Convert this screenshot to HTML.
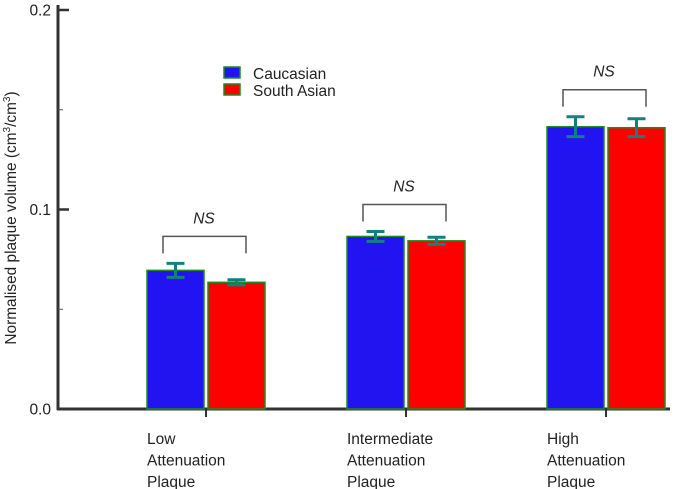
<!DOCTYPE html>
<html><head><meta charset="utf-8"><style>
body{margin:0;background:#fff}
svg{display:block;font-family:"Liberation Sans",Arial,sans-serif}
</style></head><body>
<svg id="c" width="685" height="489" viewBox="0 0 685 489">
<g id="axes"></g><g id="marks"></g>
</svg>
<script>
const categories=[["Low","Attenuation","Plaque"],["Intermediate","Attenuation","Plaque"],["High","Attenuation","Plaque"]];
const seriesNames=["Caucasian","South Asian"];
const caucasian=[0.0695,0.0865,0.1415];
const southAsian=[0.0635,0.0843,0.141];
const caucasianErr=[0.0035,0.0025,0.005];
const southAsianErr=[0.0013,0.0018,0.0045];
const sigLabels=["NS","NS","NS"];
const yTicks=[0,0.1,0.2];
const yTickLabels=["0.0","0.1","0.2"];
const yMinor=[0.05,0.15];

const NS="http://www.w3.org/2000/svg";
const y=v=>409-v*1995;
const cx=i=>206+i*200;
const colors=["#2114f0","#ff0000"];
function mk(tag,attrs,parent,text){const e=document.createElementNS(NS,tag);for(const k in attrs)e.setAttribute(k,attrs[k]);if(text!=null)e.textContent=text;parent.appendChild(e);return e;}
const A=document.getElementById('axes'),M=document.getElementById('marks');
let e;
e=mk('line',{x1:58,y1:5,x2:58,y2:410,stroke:'#333','stroke-width':3},A);


e=mk('line',{x1:57,y1:409,x2:670,y2:409,stroke:'#333','stroke-width':3},A);


yTicks.forEach((t,i)=>{
 e=mk('line',{x1:58,y1:y(t),x2:69,y2:y(t),stroke:'#333','stroke-width':2.5},A);
 
 
 e=mk('text',{x:51,y:y(t)+5.5,'text-anchor':'end','font-size':15.5,fill:'#222'},A,yTickLabels[i]);
 
 
});
yMinor.forEach(t=>{
 e=mk('line',{x1:58,y1:y(t),x2:63,y2:y(t),stroke:'#555','stroke-width':1},A);
 
 
});
e=mk('text',{x:0,y:0,transform:'translate(16,218) rotate(-90)','text-anchor':'middle','font-size':15.4,fill:'#222'},A);


e.innerHTML='Normalised plaque volume (cm<tspan font-size="10" dy="-6">3</tspan><tspan dy="6">/cm</tspan><tspan font-size="10" dy="-6">3</tspan><tspan dy="6">)</tspan>';
categories.forEach((lines,i)=>{
 e=mk('line',{x1:cx(i),y1:409,x2:cx(i),y2:417,stroke:'#333','stroke-width':2},A);
 
 
 const t=mk('text',{x:cx(i)-59,y:444,'font-size':15.5,fill:'#222'},A);
 
 
 lines.forEach((l,j)=>mk('tspan',{x:cx(i)-59,dy:j?21.5:0},t,l));
 const vals=[caucasian[i],southAsian[i]],errs=[caucasianErr[i],southAsianErr[i]];
 vals.forEach((v,s)=>{
  const x0=s?cx(i)+2:cx(i)-59;
  e=mk('rect',{x:x0,y:y(v),width:57,height:409-y(v),fill:colors[s],stroke:'#1f8a1f','stroke-width':1.5},M);
  
  
  const mx=x0+28.5,hi=y(v+errs[s]),lo=y(v-errs[s]);
  const g=mk('g',{stroke:'#138080','stroke-width':3},M);
  
  
  mk('line',{x1:mx,y1:hi,x2:mx,y2:lo},g);
  mk('line',{x1:mx-9,y1:hi,x2:mx+9,y2:hi},g);
  mk('line',{x1:mx-9,y1:lo,x2:mx+9,y2:lo},g);
 });
 const top=Math.min(y(vals[0]+errs[0]),y(vals[1]+errs[1]))-10;
 const by=top-17;
 e=mk('path',{d:`M${cx(i)-43},${top} V${by} H${cx(i)+40} V${top}`,fill:'none',stroke:'#555','stroke-width':1.5},M);
 
 
 e=mk('text',{x:cx(i)-2,y:by-13,'text-anchor':'middle','font-size':15.5,'font-style':'italic',fill:'#222'},M,sigLabels[i]);
 
 
});
seriesNames.forEach((n,s)=>{
 const g=mk('g',{},A);
 
 
 mk('rect',{x:224,y:67+s*17,width:16,height:11,fill:colors[s],stroke:'#1f8a1f','stroke-width':1.5},g);
 mk('text',{x:253,y:79+s*17,'font-size':15.5,fill:'#222'},g,n);
});
</script>
</body></html>
